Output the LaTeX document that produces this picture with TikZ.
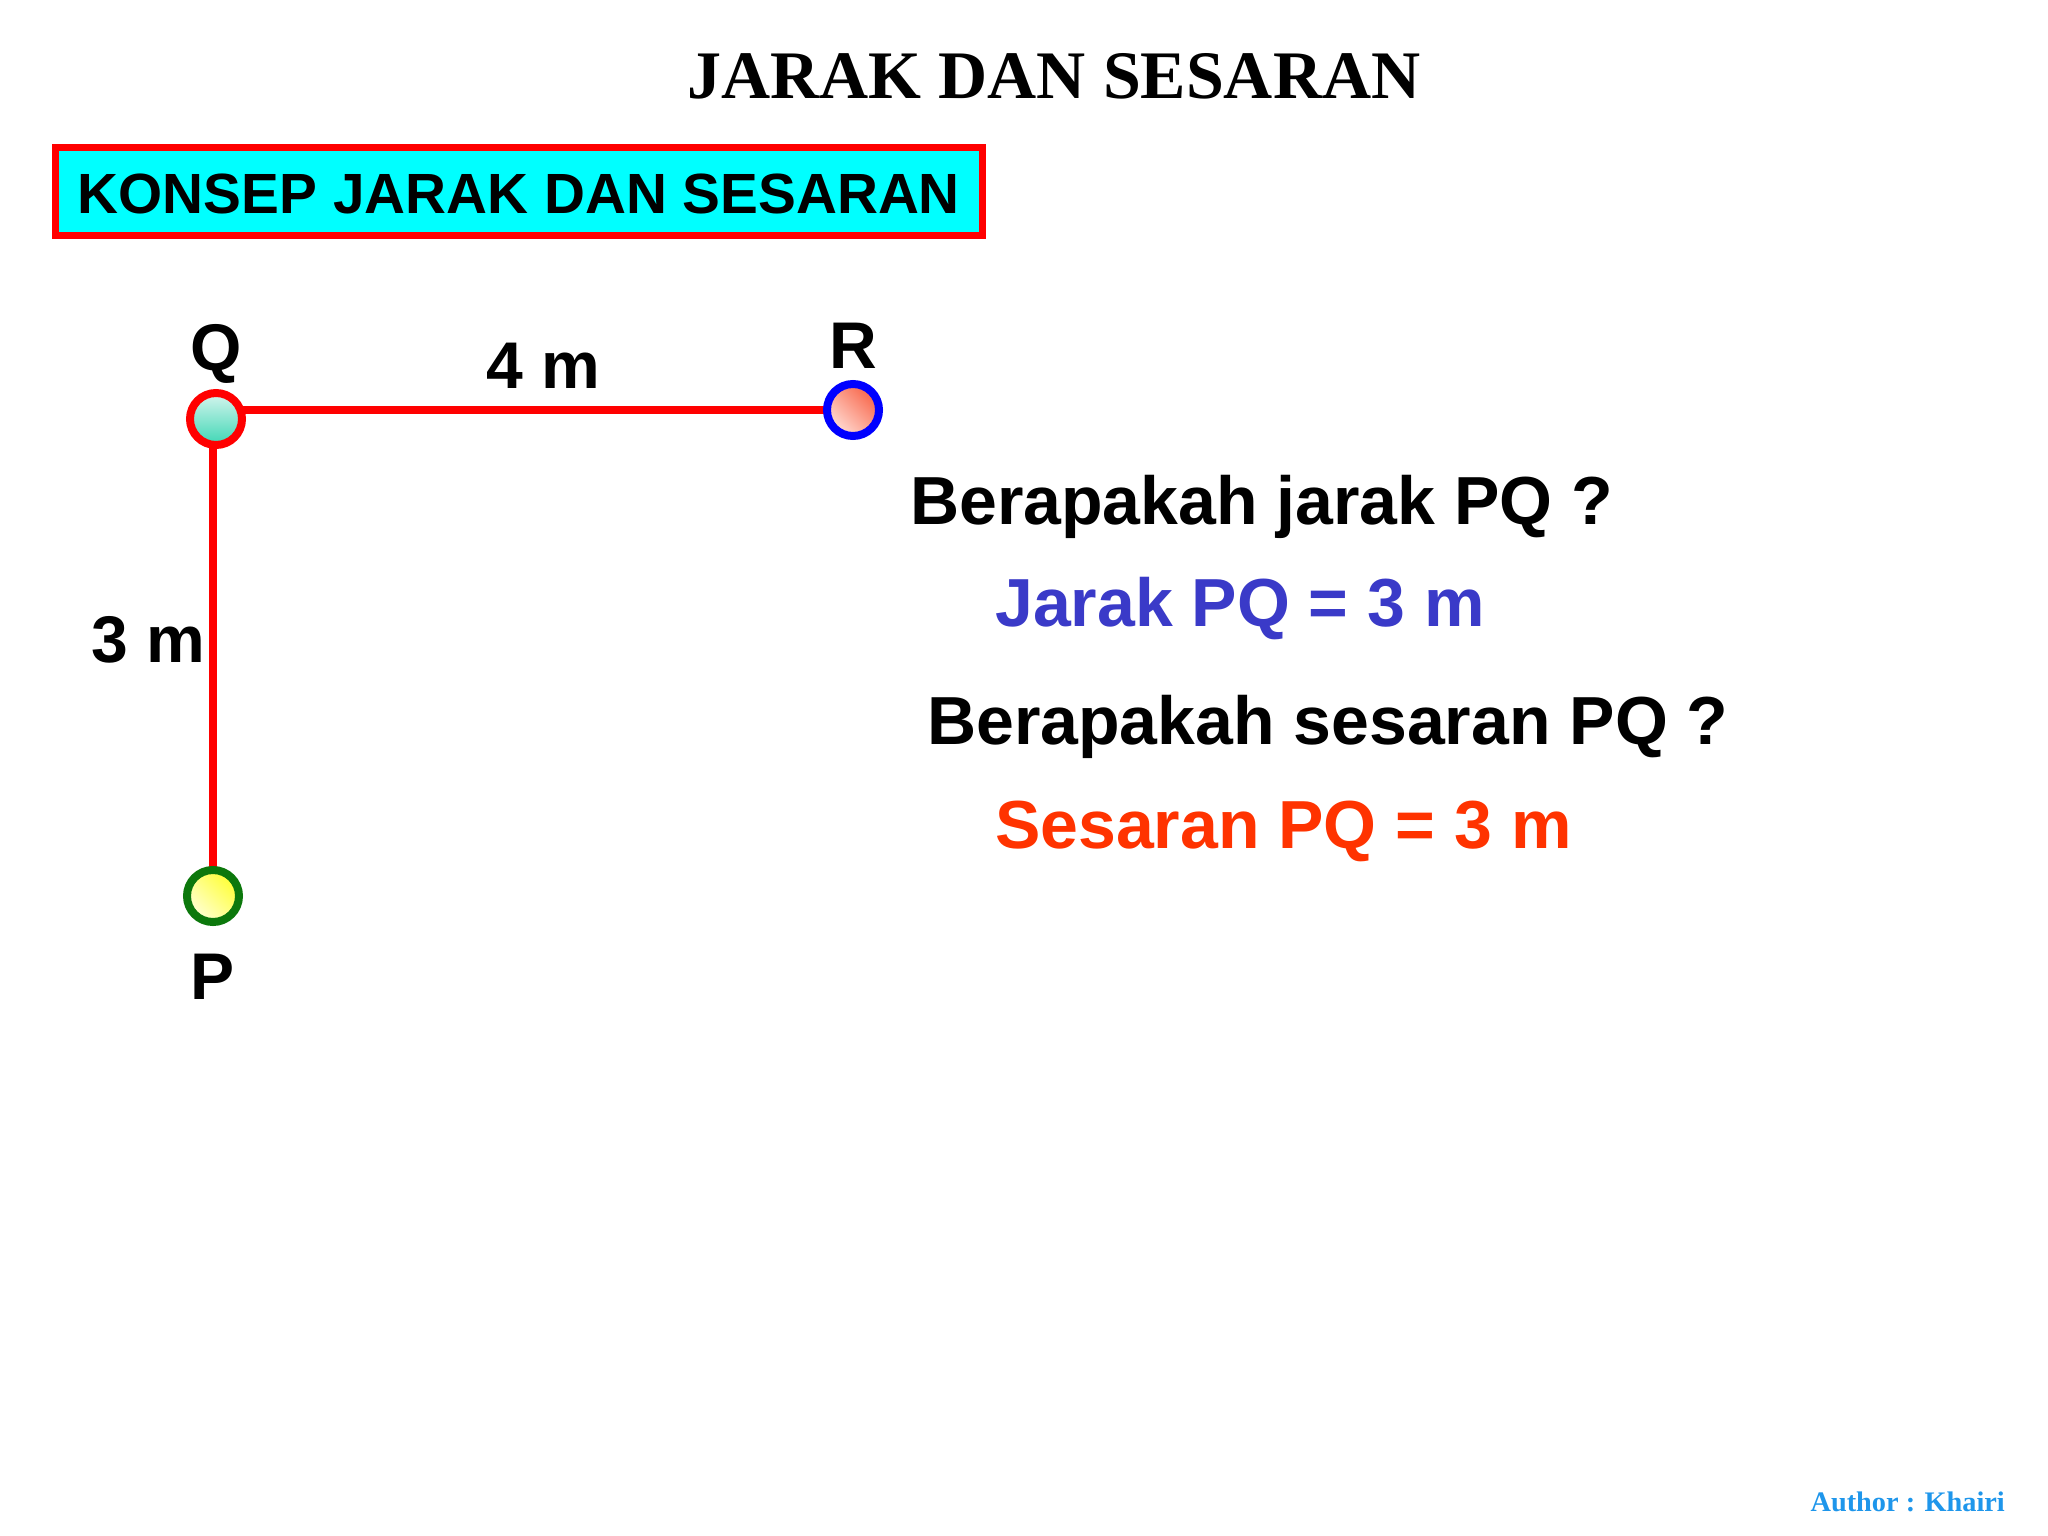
\documentclass[tikz,border=0pt]{standalone}
\usepackage{fontspec}
\setmainfont{Liberation Sans}
\newfontfamily\timesf{Liberation Serif}
\usetikzlibrary{backgrounds}
\definecolor{ansblue}{RGB}{58,58,200}
\definecolor{ansred}{RGB}{255,51,0}
\definecolor{authblue}{RGB}{30,150,235}
\definecolor{pgreen}{RGB}{12,120,12}
\definecolor{qteal}{RGB}{60,214,180}
\definecolor{qlight}{RGB}{215,245,238}
\definecolor{rsalmon}{RGB}{248,100,72}
\definecolor{rlight}{RGB}{255,222,214}
\definecolor{pyellow}{RGB}{255,255,50}
\definecolor{plight}{RGB}{255,255,215}
\definecolor{hdrcyan}{RGB}{0,255,255}
\definecolor{segred}{RGB}{255,0,0}
\definecolor{rblue}{RGB}{0,0,255}
\begin{document}
\begin{tikzpicture}[x=1pt,y=-1pt,
  txt/.style={inner sep=0pt, anchor=base west, font=\fontsize{68}{80}\selectfont\bfseries},
  lbl/.style={inner sep=0pt, anchor=base, font=\fontsize{66}{78}\selectfont\bfseries},
  pt/.style={circle, inner sep=0pt, minimum size=52pt, line width=8pt, shading angle=45},
  seg/.style={segred, line width=8pt}]
\useasboundingbox (0,0) rectangle (2048,1536);
% title
\node[inner sep=0pt, anchor=base, font=\timesf\fontsize{68}{80}\selectfont\bfseries] (title) at (1054,99) {JARAK DAN SESARAN};
% header box
\node[draw=segred, line width=7pt, fill=hdrcyan, minimum width=927pt, minimum height=88pt, inner sep=0pt] (hdr) at (519,191.5) {};
\node[inner sep=0pt, anchor=base, font=\fontsize{56.7}{66}\selectfont\bfseries] (hdrtxt) at (519,213) {KONSEP JARAK DAN SESARAN};
% points
\node[pt, draw=segred, top color=qlight, bottom color=qteal] (Q) at (216,419) {};
\node[pt, draw=rblue, top color=rsalmon, bottom color=rlight, shading angle=-45] (R) at (853,410) {};
\node[pt, draw=pgreen, top color=pyellow, bottom color=plight, shading angle=-45] (P) at (213,896) {};
\begin{scope}[on background layer]
  \fill[white] (0,0) rectangle (2048,1536);
  \draw[seg] (Q.center |- R.center) -- (R.center);
  \draw[seg] (P.center |- Q.center) -- (P.center);
\end{scope}
% point labels
\node[lbl] (lq) at (216,370) {Q};
\node[lbl] (lr) at (853,368) {R};
\node[lbl] (lp) at (213,999) {P};
\node[lbl] (l4) at (543,388) {4 m};
\node[lbl] (l3) at (148,662) {3 m};
% questions and answers
\node[txt] (q1) at (910,524) {Berapakah jarak PQ ?};
\node[txt, text=ansblue] (a1) at (995,626) {Jarak PQ = 3 m};
\node[txt] (q2) at (927,744) {Berapakah sesaran PQ ?};
\node[txt, text=ansred] (a2) at (995,848) {Sesaran PQ = 3 m};
% author
\node[inner sep=0pt, anchor=base east, text=authblue, font=\timesf\fontsize{28.3}{34}\selectfont\bfseries] (auth) at (2005,1511) {Author : Khairi};
\end{tikzpicture}
\end{document}
